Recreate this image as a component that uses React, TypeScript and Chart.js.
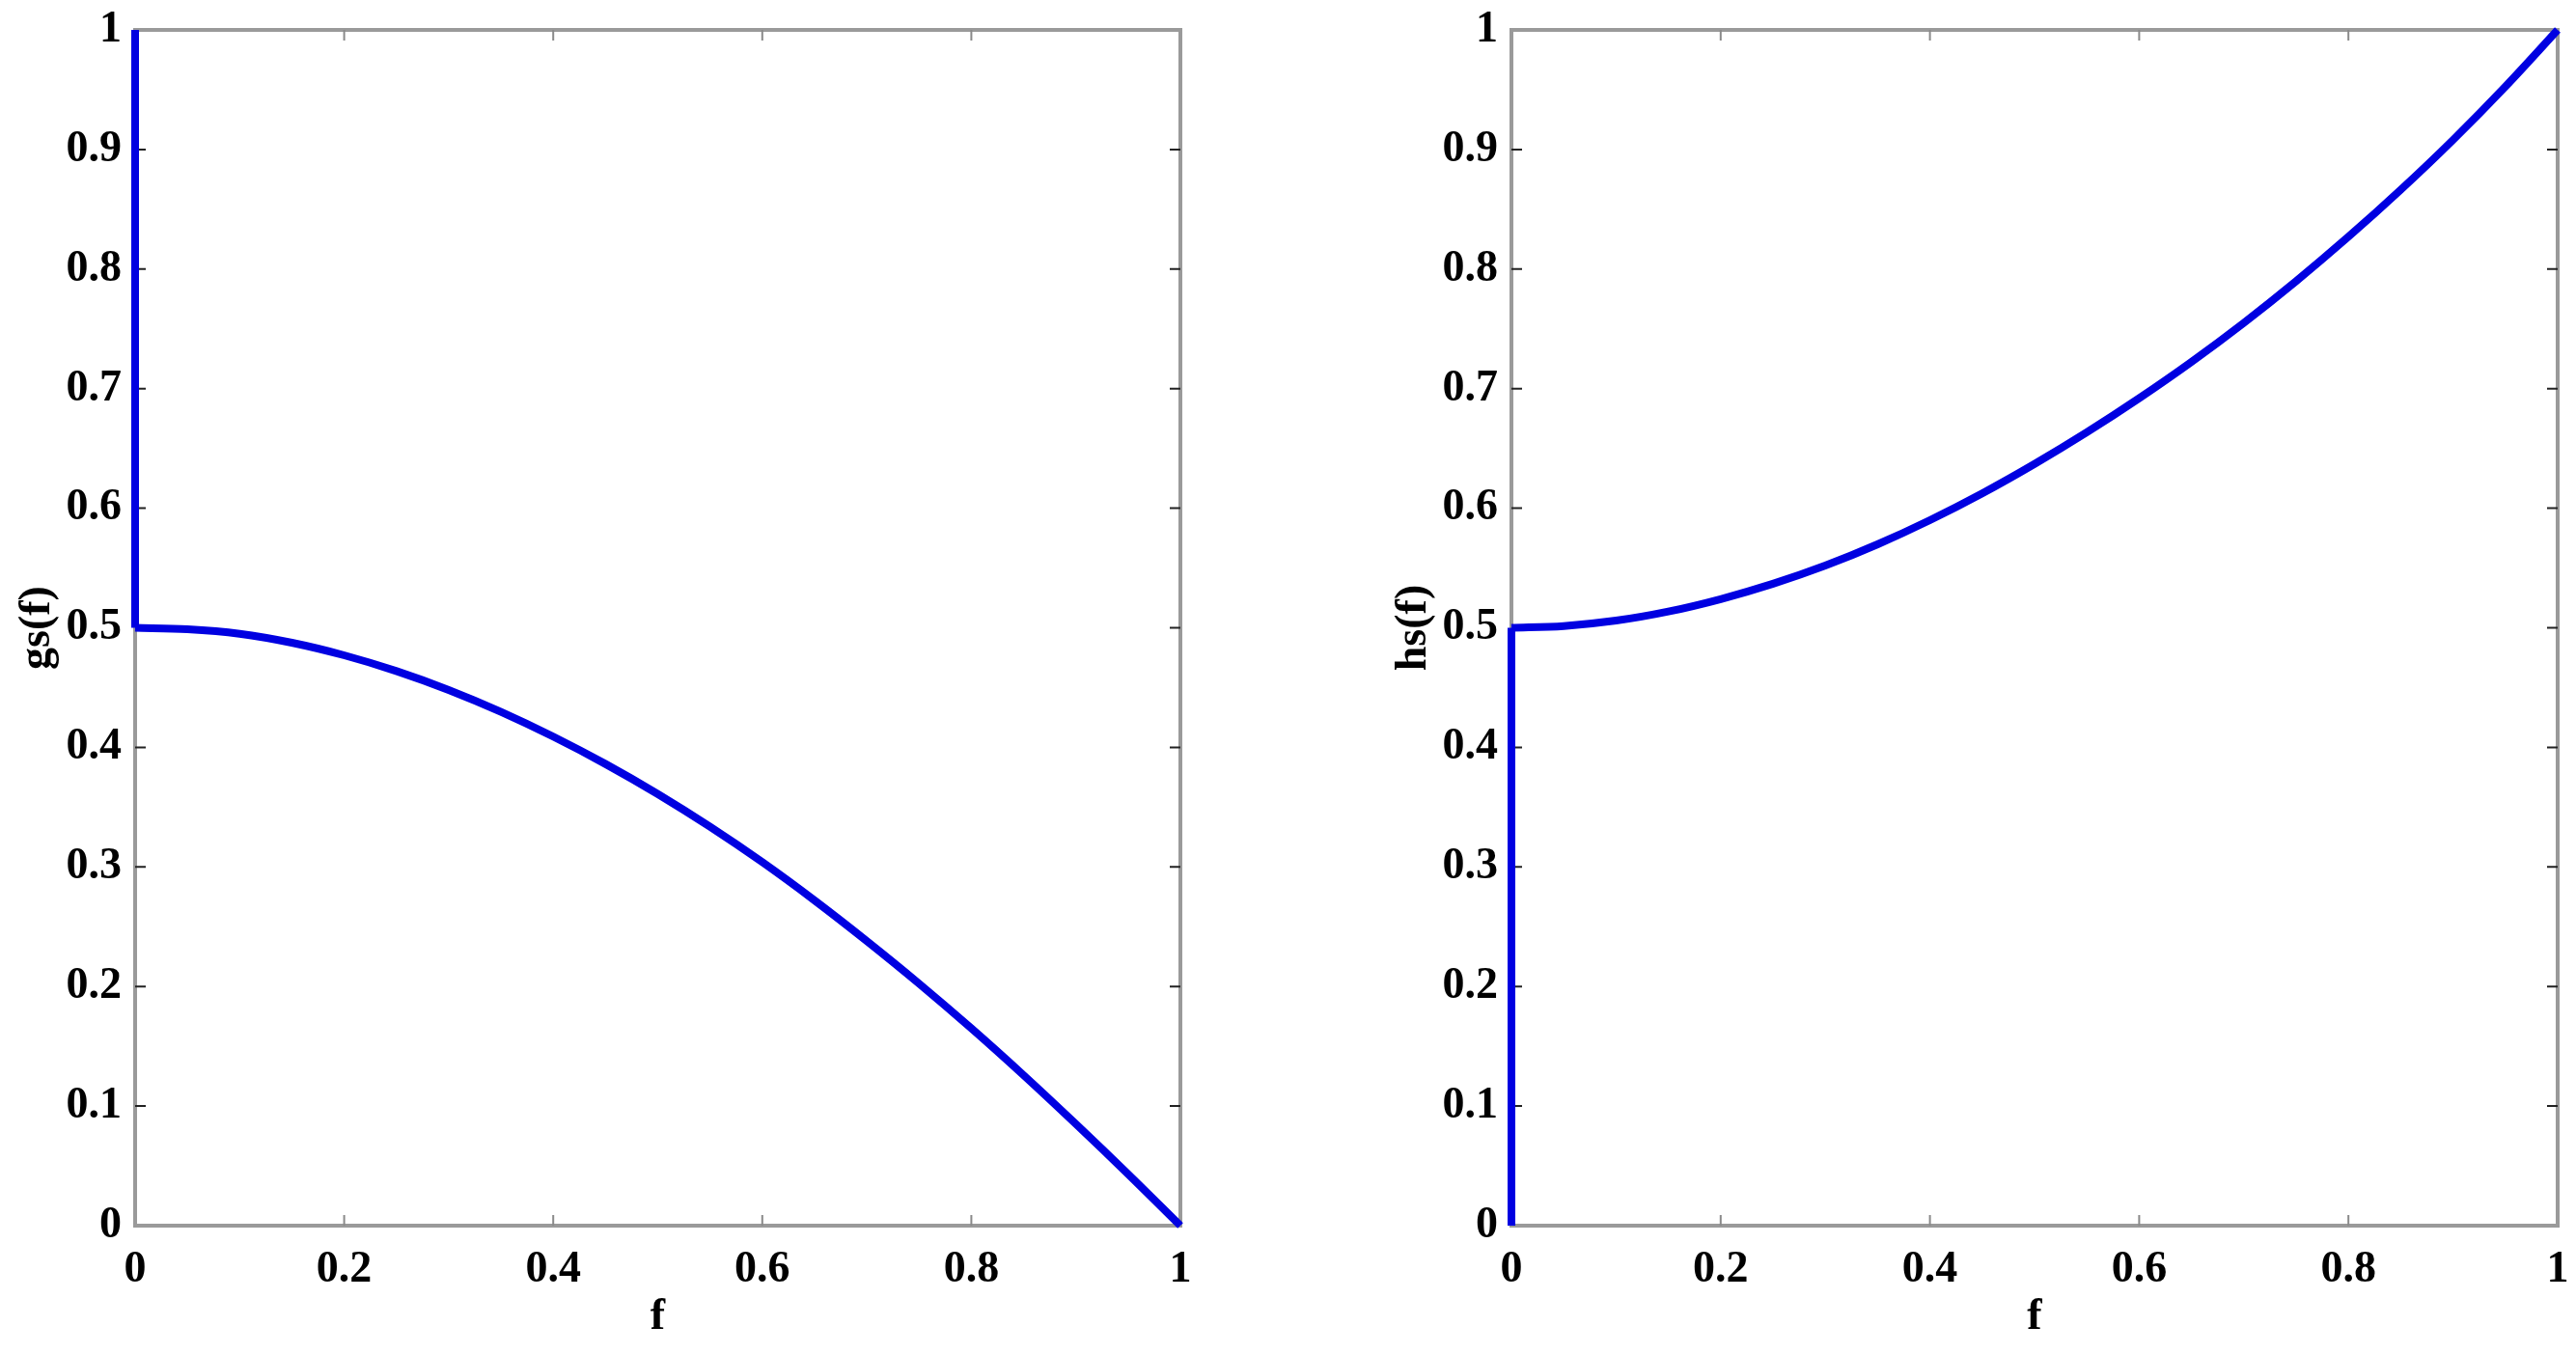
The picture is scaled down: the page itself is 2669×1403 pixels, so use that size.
import React, { useEffect, useRef } from "react";
import { Chart, registerables } from "chart.js";

Chart.register(...registerables);

// f values (x axis) shared by both panels
const F_VALUES = [0, 0.05, 0.1, 0.15, 0.2, 0.25, 0.3, 0.35, 0.4, 0.45, 0.5, 0.55, 0.6, 0.65, 0.7, 0.75, 0.8, 0.85, 0.9, 0.95, 1];
// gs(f)
const GS_VALUES = [0.5, 0.4988, 0.495, 0.4875, 0.477, 0.4638, 0.448, 0.4297, 0.409, 0.3861, 0.361, 0.3336, 0.304, 0.272, 0.238, 0.2024, 0.165, 0.1258, 0.085, 0.0431, 0];
// hs(f)
const HS_VALUES = [0.5, 0.5015, 0.506, 0.5136, 0.524, 0.5368, 0.552, 0.5698, 0.59, 0.6124, 0.637, 0.6635, 0.692, 0.7224, 0.755, 0.7899, 0.827, 0.8663, 0.908, 0.9526, 1];
// vertical jump segments at f = 0
const GS_JUMP = [{ x: 0, y: 1 }, { x: 0, y: 0.5 }];
const HS_JUMP = [{ x: 0, y: 0 }, { x: 0, y: 0.5 }];

const X_TICKS = [0, 0.2, 0.4, 0.6, 0.8, 1];
const Y_TICKS = [0, 0.1, 0.2, 0.3, 0.4, 0.5, 0.6, 0.7, 0.8, 0.9, 1];

const LINE_COLOR = "rgb(0,0,225)";
const FONT_FAMILY = "'Liberation Serif', 'Times New Roman', serif";

const fmt = (v: number) => String(Number(v.toFixed(1)));

const framePlugin = {
  id: "matlabFrame",
  beforeDatasetsDraw(chart: any) {
    const { ctx, chartArea } = chart;
    const { left, right, top, bottom } = chartArea;
    const xs = chart.scales.x;
    const ys = chart.scales.y;
    ctx.save();
    ctx.strokeStyle = "#9a9a9a";
    ctx.lineWidth = 4;
    ctx.strokeRect(left, top, right - left, bottom - top);
    const len = 11;
    ctx.lineWidth = 2;
    ctx.strokeStyle = "#8a8a8a";
    X_TICKS.forEach((t) => {
      if (t === 0 || t === 1) return;
      const px = xs.getPixelForValue(t);
      ctx.beginPath();
      ctx.moveTo(px, bottom);
      ctx.lineTo(px, bottom - len);
      ctx.moveTo(px, top);
      ctx.lineTo(px, top + len);
      ctx.stroke();
    });
    ctx.strokeStyle = "#222";
    Y_TICKS.forEach((t) => {
      if (t === 0 || t === 1) return;
      const py = ys.getPixelForValue(t);
      ctx.beginPath();
      ctx.moveTo(left, py);
      ctx.lineTo(left + len, py);
      ctx.moveTo(right, py);
      ctx.lineTo(right - len, py);
      ctx.stroke();
    });
    ctx.restore();
  },
};

function makeConfig(jump: { x: number; y: number }[], ys: number[], yTitle: string, padRight: number) {
  const font = { family: FONT_FAMILY, size: 46, weight: "bold" as const };
  return {
    type: "line" as const,
    data: {
      datasets: [
        {
          data: jump,
          borderColor: LINE_COLOR,
          borderWidth: 8,
          pointRadius: 0,
          tension: 0,
          clip: false as any,
        },
        {
          data: F_VALUES.map((f, i) => ({ x: f, y: ys[i] })),
          borderColor: LINE_COLOR,
          borderWidth: 8,
          pointRadius: 0,
          cubicInterpolationMode: "monotone" as const,
          clip: false as any,
        },
      ],
    },
    options: {
      animation: false as const,
      responsive: false,
      devicePixelRatio: 1,
      layout: { padding: { left: 0, top: 31, right: padRight, bottom: 0 } },
      plugins: { legend: { display: false }, tooltip: { enabled: false } },
      scales: {
        x: {
          type: "linear" as const,
          min: 0,
          max: 1,
          afterBuildTicks: (scale: any) => {
            scale.ticks = X_TICKS.map((v) => ({ value: v }));
          },
          afterFit: (scale: any) => {
            scale.height = 133;
            scale.paddingLeft = 0;
            scale.paddingRight = 0;
          },
          grid: { display: false, drawTicks: false },
          border: { display: false },
          ticks: {
            color: "#000",
            font,
            padding: 19,
            maxRotation: 0,
            callback: (v: any) => fmt(Number(v)),
          },
          title: {
            display: true,
            text: "f",
            color: "#000",
            font,
            padding: { top: 0, bottom: 10 },
          },
        },
        y: {
          type: "linear" as const,
          min: 0,
          max: 1,
          afterBuildTicks: (scale: any) => {
            scale.ticks = Y_TICKS.map((v) => ({ value: v }));
          },
          afterFit: (scale: any) => {
            scale.width = 140;
            scale.paddingTop = 0;
            scale.paddingBottom = 0;
          },
          grid: { display: false, drawTicks: false },
          border: { display: false },
          ticks: {
            color: "#000",
            font,
            padding: 14,
            callback: (v: any) => fmt(Number(v)),
          },
          title: {
            display: true,
            text: yTitle,
            color: "#000",
            font,
            padding: { top: 12, bottom: 0 },
          },
        },
      },
    },
    plugins: [framePlugin],
  };
}

function Panel(props: { left: number; width: number; jump: { x: number; y: number }[]; ys: number[]; title: string; padRight: number }) {
  const ref = useRef<HTMLCanvasElement | null>(null);
  useEffect(() => {
    if (!ref.current) return;
    const chart = new Chart(ref.current, makeConfig(props.jump, props.ys, props.title, props.padRight) as any);
    return () => chart.destroy();
  }, []);
  return (
    <canvas
      ref={ref}
      width={props.width}
      height={1403}
      style={{ position: "absolute", left: props.left, top: 0, width: props.width, height: 1403 }}
    />
  );
}

export default function App() {
  useEffect(() => {
    document.body.style.margin = "0";
    document.body.style.background = "#fff";
  }, []);
  return (
    <div style={{ position: "fixed", left: 0, top: 0, width: 2669, height: 1403, background: "#fff", overflow: "hidden" }}>
      <Panel left={0} width={1340} jump={GS_JUMP} ys={GS_VALUES} title="gs(f)" padRight={1340 - 1223} />
      <Panel left={1426} width={1300} jump={HS_JUMP} ys={HS_VALUES} title="hs(f)" padRight={1300 - (2650 - 1426)} />
    </div>
  );
}
